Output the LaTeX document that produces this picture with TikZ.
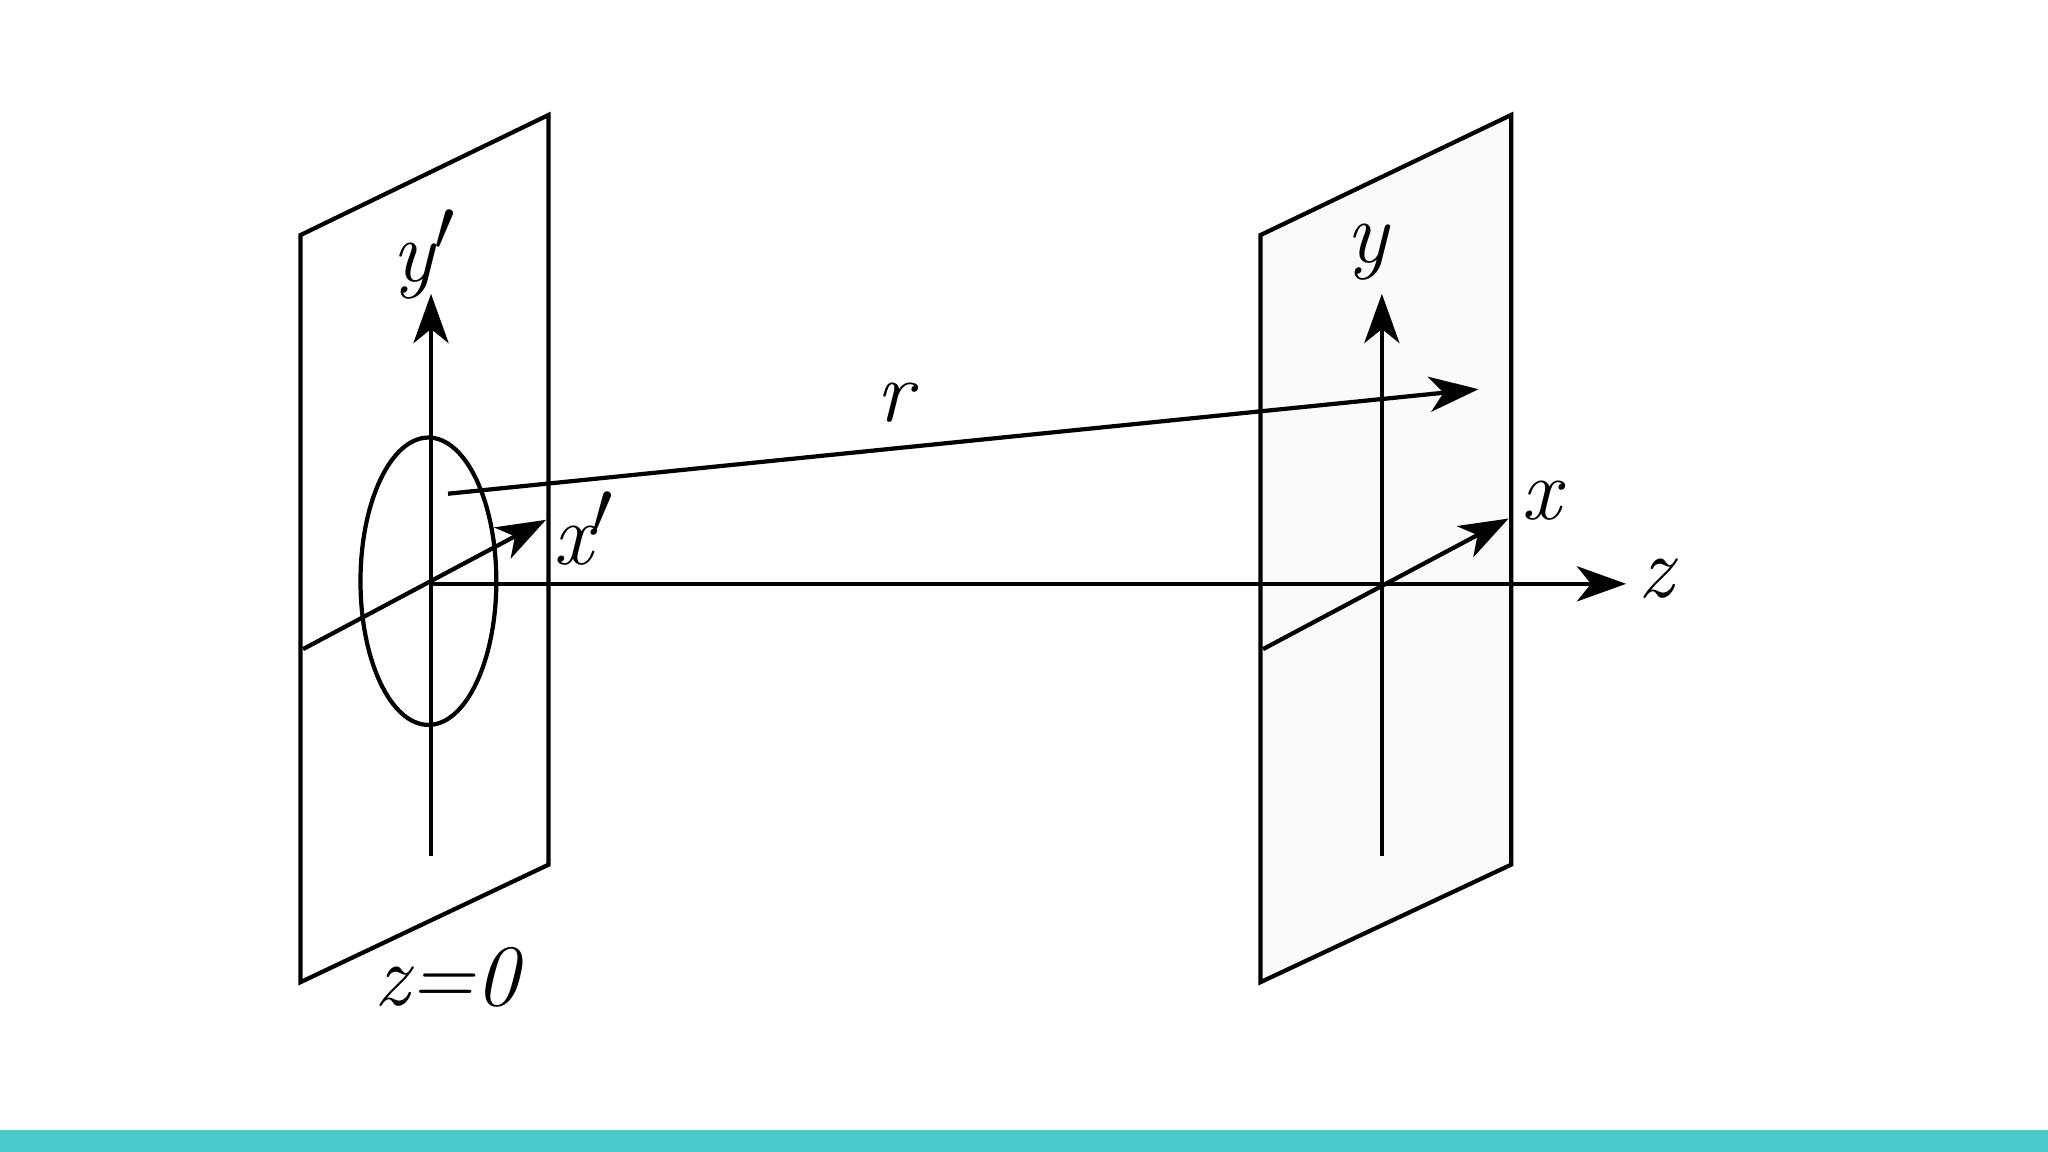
\documentclass[tikz,border=0pt]{standalone}
\usetikzlibrary{arrows.meta}
\begin{document}
\begin{tikzpicture}[x=0.01306cm,y=-0.01306cm,
  ln/.style={line width=1.2pt},
  ar/.style={ln,-{Stealth[length=14pt,width=10pt,inset=4pt]}},
  lbl/.style={font=\Huge\itshape}]
\useasboundingbox (0,0) rectangle (1568,882);
\fill[white] (0,0) rectangle (1568,882);
\fill[teal!60!cyan!70!white] (0,865) rectangle (1568,882);
% planes
\draw[ln] (230,180) -- (420,88) -- (420,662) -- (230,752) -- cycle;
\draw[ln,fill=black!2] (965,180) -- (1157,88) -- (1157,662) -- (965,752) -- cycle;
% left
\coordinate (o1) at (330,447);
\coordinate (yb1) at (330,655);
\coordinate (yt1) at (330,225);
\coordinate (xs1) at (232,497);
\coordinate (xe1) at (418,398);
\draw[ar] (yb1) -- (yt1);
\draw[ln] (328,445) ellipse [x radius=52, y radius=110];
\draw[ar] (xs1) -- (xe1);
\node[lbl] (yl1) at (325,195) {y$'$};
\node[lbl] (xl1) at (447,405) {x$'$};
\node[lbl] (z0) at (342,748) {z=0};
% right
\coordinate (yb2) at (1058,655);
\coordinate (yt2) at (1058,225);
\coordinate (xs2) at (967,497);
\coordinate (xe2) at (1155,397);
\draw[ar] (yb2) -- (yt2);
\draw[ar] (xs2) -- (xe2);
\node[lbl] (yl2) at (1047,193) {y};
\node[lbl] (xl2) at (1180,383) {x};
% z axis
\coordinate (ze) at (1245,447);
\draw[ar] (o1) -- (ze);
\node[lbl] (zl) at (1268,443) {z};
% r
\coordinate (rs) at (343,378);
\coordinate (re) at (1132,298);
\draw[ar] (rs) -- (re);
\node[lbl] (rl) at (685,308) {r};
\end{tikzpicture}
\end{document}
